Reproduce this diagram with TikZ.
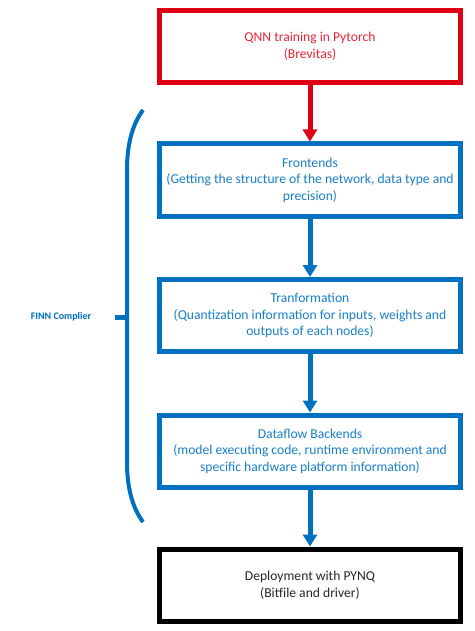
\documentclass[tikz,border=0pt]{standalone}
\usepackage{fontspec}
\setmainfont{Carlito}
\usetikzlibrary{arrows.meta}
\definecolor{qred}{RGB}{224,0,20}
\definecolor{qblue}{RGB}{0,112,192}
\begin{document}
\begin{tikzpicture}[x=1pt,y=-1pt,
        box/.style={draw,line width=5pt,minimum width=301pt,minimum height=72pt,align=center,font=\fontsize{13.6}{16.6}\selectfont},
        flow/.style={line width=5pt,-{Triangle[width=14pt,length=12pt]}}]
        \useasboundingbox (0,0) rectangle (474,631);
        \node[box,draw=qred,text=qred!85!white] (qnn) at (310,46.5) {QNN training in Pytorch\\(Brevitas)};
        \node[box,draw=qblue,text=qblue!90!white] (front) at (310,180) {Frontends\\(Getting the structure of the network, data type and\\precision)};
        \node[box,draw=qblue,text=qblue!90!white] (trans) at (310,315.5) {Tranformation\\(Quantization information for inputs, weights and\\outputs of each nodes)};
        \node[box,draw=qblue,text=qblue!90!white] (back) at (310,451) {Dataflow Backends\\(model executing code, runtime environment and\\specific hardware platform information)};
        \node[box,draw=black,text=black!85] (deploy) at (310,585) {Deployment with PYNQ\\(Bitfile and driver)};
        \draw[flow,qred] (qnn) -- (front);
        \foreach \a/\b in {front/trans, trans/back, back/deploy}
            \draw[flow,qblue] (\a) -- (\b);
        % curly bracket round the compiler steps
        \draw[qblue,line width=4pt] (143,110) .. controls (132,125) and (127,145) .. (127,170) -- (127,462) .. controls (127,487) and (132,507) .. (143,522);
        \node[font=\bfseries\fontsize{10}{12}\selectfont,text=qblue] (finn) at (61,317) {FINN Complier};
        \coordinate (tip) at (127,317);
        \draw[qblue,line width=5pt] (tip) -- +(-12,0);
    \end{tikzpicture}
\end{document}
